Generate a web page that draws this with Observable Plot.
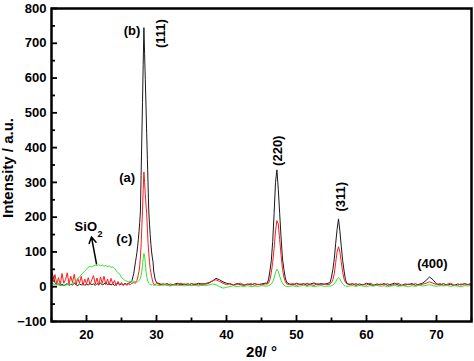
<!DOCTYPE html>
<html><head><meta charset="utf-8">
<script src="https://cdn.jsdelivr.net/npm/d3@7"></script>
<script src="https://cdn.jsdelivr.net/npm/@observablehq/plot@0.6"></script>
<style>html,body{margin:0;padding:0;background:#fff} svg{display:block}</style>
</head><body><div id="chart"></div>
<script>
// 2θ grid (degrees)
const twoTheta = [
  15,15.25,15.5,15.75,16,16.25,16.5,16.75,17,17.25,17.5,17.75,18,18.25,18.5,18.75,19,19.25,19.5,19.75,20,20.25,20.5,20.75,21,21.25,21.5,21.75,22,22.25,22.5,22.75,23,23.25,23.5,23.75,24,24.25,24.5,24.75,25,25.25,25.5,25.75,26,26.25,26.5,26.75,
  27,27.1,27.2,27.3,27.4,27.5,27.6,27.7,27.8,27.9,28,28.1,28.2,28.3,28.4,28.5,28.6,28.7,28.8,28.9,29,29.1,29.2,29.3,29.4,29.5,29.6,
  29.8,30,30.5,31,31.5,32,32.5,33,33.5,34,34.5,35,35.5,36,36.5,37,37.5,38,38.5,39,39.5,40,40.5,41,41.5,42,42.5,43,43.5,44,44.5,45,45.5,
  45.8,46,46.2,46.4,46.6,46.8,47,47.2,47.4,47.6,47.8,48,48.2,48.4,48.6,
  49,49.5,50,50.5,51,51.5,52,52.5,53,53.5,54,54.5,
  54.8,55,55.2,55.4,55.6,55.8,56,56.2,56.4,56.6,56.8,57,57.2,
  57.5,58,58.5,59,59.5,60,60.5,61,61.5,62,62.5,63,63.5,64,64.5,65,65.5,66,66.5,67,67.5,68,68.5,69,69.5,70,70.5,71,71.5,72,72.5,73,73.5,74,74.5,75
];
// sample (b) – black
const intensityB = [
  45,28,12,6,8,4,7,3,6,9,4,7,5,10,6,3,8,5,9,4,7,5,10,6,8,4,9,6,11,5,8,12,6,9,5,8,4,7,10,5,8,6,9,7,10,12,18,38,
  72,84,98,115,135,158,185,215,320,425,530,640,745,670,595,520,440,365,290,215,180,150,122,100,85,72,45,
  22,12,8,5,9,4,7,10,5,8,4,9,6,10,7,9,12,16,24,20,14,10,8,5,9,6,4,8,5,9,6,8,10,
  10,20,45,75,130,210,300,336,280,210,140,80,50,25,12,
  8,5,10,6,9,4,8,11,6,9,7,10,
  12,28,50,80,125,165,195,160,115,75,45,20,10,
  6,9,4,8,5,10,6,3,8,5,9,4,7,10,5,3,8,6,9,4,7,10,18,28,20,8,5,9,4,7,3,8,5,9,6,10
];
// sample (a) – red
const intensityA = [
  30,14,35,8,26,6,38,10,20,40,8,30,12,36,5,24,10,30,4,22,8,26,6,20,32,8,25,4,28,10,30,6,22,5,24,8,18,3,15,5,12,3,10,4,8,6,10,12,
  10,14,18,25,35,45,60,85,120,170,220,280,330,300,265,235,210,165,125,95,70,52,40,30,20,12,8,
  6,10,6,9,4,8,5,7,10,6,9,4,8,5,9,7,10,18,20,15,10,6,9,4,7,10,5,6,9,4,7,5,8,
  8,10,20,40,70,110,160,190,180,135,90,50,28,15,8,
  6,9,4,8,5,10,6,4,9,5,8,6,
  8,12,20,38,70,100,115,100,70,42,22,12,8,
  8,5,9,4,7,5,10,6,4,8,5,9,3,7,10,5,4,8,5,9,4,7,10,14,10,6,9,4,7,10,5,4,8,5,7,4
];
// sample (c) – green
const intensityC = [
  12,8,5,7,4,6,3,5,4,6,5,7,9,13,17,23,29,34,40,45,50,56,58,57,60,62,61,63,60,62,59,61,58,60,56,57,53,46,40,36,26,22,18,16,14,15,13,16,
  15,14,16,13,15,17,20,24,32,45,62,82,96,88,68,45,30,20,14,10,8,6,7,5,6,4,5,
  4,5,3,6,4,2,5,3,4,2,5,3,4,2,4,3,5,8,6,0,-4,-2,1,3,0,2,1,3,0,2,1,3,2,
  2,3,5,8,14,25,40,50,44,30,18,10,5,2,1,
  1,3,0,2,4,1,3,0,2,3,1,2,
  2,3,5,8,14,22,26,22,14,8,4,2,1,
  2,3,1,4,2,0,3,2,4,1,3,0,2,4,1,3,2,0,3,1,4,2,4,6,3,1,3,2,4,1,3,2,0,3,2,4
];
// axis ticks
const xMajor = [20, 30, 40, 50, 60, 70];
const xMinor = [15, 25, 35, 45, 55, 65, 75];
const yMajor = [-100, 0, 100, 200, 300, 400, 500, 600, 700, 800];
const yMinor = [-50, 50, 150, 250, 350, 450, 550, 650, 750];
// annotations
const sampleLabels = ["(b)", "(a)", "(c)"];
const sampleX = [26.5, 25.8, 25.4];
const sampleY = [737, 312, 138];
const peakLabels = ["(111)", "(220)", "(311)"];
const peakX = [30.6, 47.4, 56.4];
const peakY = [728, 391, 259];
const peak400 = {label: "(400)", x: 69.4, y: 66};
const silica = {x: 21.5, y: 172, subX: 21.57, subY: 150};
const arrowFrom = {x: 21.43, y: 66};
const arrowTo = {x: 20.71, y: 143};

const rows = twoTheta.map((t, i) => ({t, a: intensityA[i], b: intensityB[i], c: intensityC[i]}));

const chart = Plot.plot({
  width: 474, height: 361,
  marginLeft: 51, marginRight: 3, marginTop: 8, marginBottom: 40,
  x: {domain: [15, 75]},
  y: {domain: [-100, 800]},
  style: {fontFamily: "'Liberation Sans', Arial, sans-serif", fontWeight: "bold", fontSize: "13px", background: "white", color: "black"},
  marks: [
    Plot.line(rows, {x: "t", y: "b", stroke: "#1a1a1a", strokeWidth: 1}),
    Plot.line(rows, {x: "t", y: "a", stroke: "#ff1a1a", strokeWidth: 1}),
    Plot.line(rows, {x: "t", y: "c", stroke: "#2ee82e", strokeWidth: 1}),
    Plot.axisX({ticks: xMajor, tickSize: -6, tickPadding: 14, strokeWidth: 1.8, label: null}),
    Plot.axisX({ticks: xMinor, tickSize: -3.5, tickFormat: () => "", strokeWidth: 1.8, label: null}),
    Plot.axisY({ticks: yMajor, tickSize: -6, tickPadding: 11, strokeWidth: 1.8, label: null}),
    Plot.axisY({ticks: yMinor, tickSize: -4, tickFormat: () => "", strokeWidth: 1.8, label: null}),
    Plot.frame({stroke: "black", strokeWidth: 2.5}),
    Plot.text(sampleLabels, {x: sampleX, y: sampleY, text: d => d, fontSize: 13, fontWeight: "bold"}),
    Plot.text(peakLabels, {x: peakX, y: peakY, text: d => d, rotate: -90, fontSize: 13, fontWeight: "bold"}),
    Plot.text([peak400], {x: "x", y: "y", text: "label", fontSize: 13, fontWeight: "bold"}),
    Plot.text([silica], {x: "x", y: "y", text: () => "SiO", textAnchor: "end", fontSize: 13, fontWeight: "bold"}),
    Plot.text([silica], {x: "subX", y: "subY", text: () => "2", textAnchor: "start", fontSize: 9, fontWeight: "bold"}),
    Plot.arrow([{x1: arrowFrom.x, y1: arrowFrom.y, x2: arrowTo.x, y2: arrowTo.y}], {x1: "x1", y1: "y1", x2: "x2", y2: "y2", stroke: "black", strokeWidth: 1.5, headLength: 7}),
    Plot.text(["Intensity / a.u."], {frameAnchor: "left", dx: -43, dy: 3, rotate: -90, textAnchor: "middle", lineAnchor: "middle", fontSize: 15, fontWeight: "bold"}),
    Plot.text(["2θ/ °"], {frameAnchor: "bottom", dy: 31, textAnchor: "middle", lineAnchor: "middle", fontSize: 15, fontWeight: "bold"})
  ]
});
document.getElementById("chart").append(chart);
</script>
</body></html>
